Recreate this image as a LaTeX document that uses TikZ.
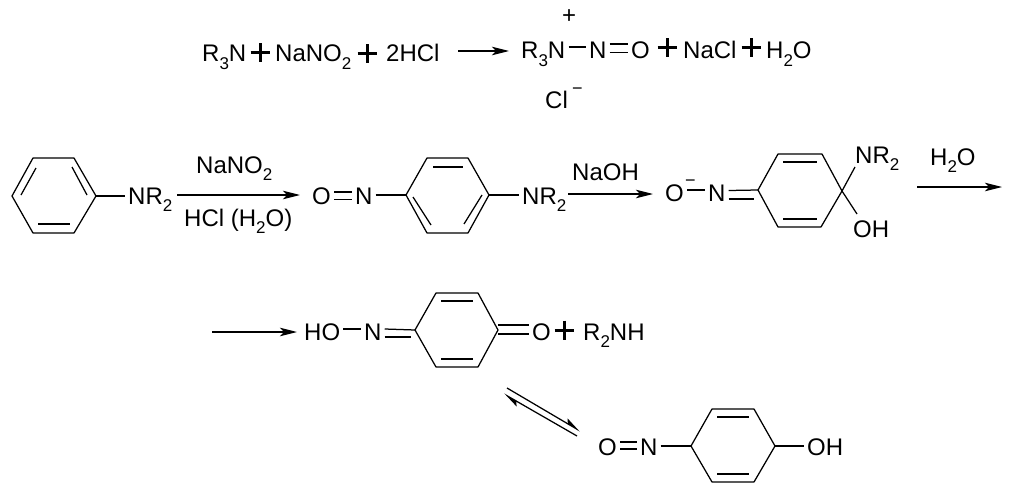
\documentclass[tikz,border=0pt]{standalone}
\usepackage{fontspec}
\setmainfont{Liberation Sans}
\usetikzlibrary{arrows.meta}
\newcommand\lowr[1]{\raisebox{-7.5pt}{\fontsize{17}{17}\selectfont #1}}
\newcommand\ringsix[7]{% name, then six vertices l tl tr r br bl given as x,y pairs
  \coordinate (#1l) at (#2); \coordinate (#1tl) at (#3); \coordinate (#1tr) at (#4);
  \coordinate (#1r) at (#5); \coordinate (#1br) at (#6); \coordinate (#1bl) at (#7);
  \draw[bond] (#1l) -- (#1tl) -- (#1tr) -- (#1r) -- (#1br) -- (#1bl) -- cycle;}
\newcommand\dbl[4]{\draw[bond] (#1 |- 0,#3) -- (#2 |- 0,#3); \draw[bond] (#1 |- 0,#4) -- (#2 |- 0,#4);}
\tikzset{
  x=1pt,y=-1pt,
  every node/.style={font=\fontsize{24}{24}\selectfont,text=black},
  atom/.style={anchor=base west,inner sep=3pt},
  plain/.style={anchor=base west,inner sep=0pt},
  bond/.style={line width=1.25pt,black,line join=round},
  rxn/.style={line width=1.25pt,black,-{Stealth[length=17pt,width=8.5pt,inset=4pt]}},
  eqm/.style={line width=1.25pt,black,-{Stealth[harpoon,length=15pt,width=9pt,inset=3pt]}},
  plussign/.style={line width=3pt,black},
}
\newcommand\plusat[2]{\draw[plussign] (#1-9.5,#2) -- (#1+9.5,#2); \draw[plussign] (#1,#2-9.5) -- (#1,#2+9.5);}
\begin{document}
\begin{tikzpicture}
\useasboundingbox (0,0) rectangle (1010,495);
% ---- row 1
\node[plain] (r3n) at (202,62) {R\lowr{3}N};
\node[plain] (nano) at (275,62) {NaNO\lowr{2}};
\node[plain] (hcl) at (386,62) {2HCl};
\coordinate (a0s) at (458,51); \coordinate (a0e) at (509,51);
\draw[rxn] (a0s) -- (a0e);
\node[atom] (pr3n) at (518,59) {R\lowr{3}N};
\node[atom] (pn) at (586,59) {N};
\node[atom] (po) at (628,59) {O};
\node[plain] (pplus) at (562,24) {+};
\node[plain] (nacl) at (683,59) {NaCl};
\node[plain] (water) at (766,59) {H\lowr{2}O};
\node[plain] (cl) at (545,108) {Cl};
\node[plain] (clm) at (572,95) {\fontsize{18}{18}\selectfont −};
\draw[bond] (pr3n.east |- 0,47) -- (pn.west |- 0,47);
\dbl{pn.east}{po.west}{44}{52.5}
% ---- row 2, first ring
\ringsix{a}{12,196}{33,158}{74,158}{96,196}{74,233}{33,233}
\draw[bond] (21,195) -- (36,168);
\draw[bond] (72,167) -- (87,195);
\draw[bond] (38,224) -- (70,224);
\node[atom] (nr1) at (125,204) {NR\lowr{2}};
\draw[bond] (ar) -- (ar -| nr1.west);
\node[plain] (l1a) at (196,173) {NaNO\lowr{2}};
\node[plain] (l1b) at (184,226) {HCl (H\lowr{2}O)};
\node[atom] (on) at (309,204) {O};
\node[atom] (nn) at (352,204) {N};
\dbl{on.east}{nn.west}{192}{199.5}
\coordinate (a1s) at (177,195); \coordinate (a1e) at (300,195);
\draw[rxn] (a1s) -- (a1e);
% second ring
\ringsix{b}{406,195}{427,158}{468,158}{489,195}{468,233}{427,233}
\draw[bond] (433,167) -- (463,167);
\draw[bond] (413,197) -- (431,225);
\draw[bond] (482,195) -- (464,224);
\draw[bond] (nn.east |- bl) -- (bl);
\node[atom] (nr2) at (519,204) {NR\lowr{2}};
\draw[bond] (br) -- (br -| nr2.west);
\coordinate (a2s) at (568,194); \coordinate (a2e) at (653,194);
\draw[rxn] (a2s) -- (a2e);
\node[plain] (l2) at (572,180) {NaOH};
% third structure
\node[atom] (omin) at (662,201) {O};
\node[plain] (ominus) at (685,186) {\fontsize{18}{18}\selectfont −};
\node[atom] (nc) at (705,201) {N};
\draw[bond] (omin.east |- 0,190) -- (nc.west |- 0,190);
\ringsix{c}{758,190}{778,154}{822,154}{842,191}{821,227}{778,227}
\draw[bond] (783,162) -- (817,162);
\draw[bond] (783,219) -- (817,219);
\draw[bond] (nc.east |- 0,190.5) -- (cl);
\draw[bond] (nc.east |- 0,199) -- (754,199);
\node[atom] (nr3) at (852,163) {NR\lowr{2}};
\node[atom] (oh3) at (850,237) {OH};
\draw[bond] (cr) -- (855,167);
\draw[bond] (cr) -- (857,214);
\node[plain] (l3) at (930,165) {H\lowr{2}O};
\coordinate (a3s) at (917,187); \coordinate (a3e) at (1002,187);
\draw[rxn] (a3s) -- (a3e);
% ---- row 3
\coordinate (a4s) at (212,332); \coordinate (a4e) at (297,332);
\draw[rxn] (a4s) -- (a4e);
\node[atom] (ho) at (301,340) {HO};
\node[atom] (nd) at (361,340) {N};
\draw[bond] (ho.east |- 0,329) -- (nd.west |- 0,329);
\ringsix{d}{415,330}{436,293}{478,293}{498,330}{478,367}{436,367}
\draw[bond] (441,301) -- (473,301);
\draw[bond] (441,359) -- (473,359);
\draw[bond] (nd.east |- 0,329) -- (dl);
\draw[bond] (nd.east |- 0,337) -- (411,337);
\node[atom] (od) at (529,340) {O};
\draw[bond] (dr |- 0,325) -- (od.west |- 0,325);
\draw[bond] (dr |- 0,334) -- (od.west |- 0,334);
\node[plain] (r2nh) at (583,340) {R\lowr{2}NH};
% equilibrium
\coordinate (e1s) at (507,388); \coordinate (e1e) at (580,431);
\coordinate (e2s) at (577,436); \coordinate (e2e) at (504,394);
\draw[eqm] (e1s) -- (e1e);
\draw[eqm] (e2s) -- (e2e);
% ---- bottom structure
\node[atom] (oe) at (595,455) {O};
\node[atom] (ne) at (637,455) {N};
\dbl{oe.east}{ne.west}{442}{449}
\ringsix{e}{691,446}{712,409}{754,409}{775,446}{754,482}{712,482}
\draw[bond] (717,417) -- (749,417);
\draw[bond] (717,474) -- (749,474);
\draw[bond] (ne.east |- el) -- (el);
\node[atom] (ohe) at (804,455) {OH};
\draw[bond] (er) -- (er -| ohe.west);
% plus signs
\plusat{260}{53}
\plusat{367}{54}
\plusat{667}{48}
\plusat{751}{48}
\plusat{564}{330}
\end{tikzpicture}
\end{document}
